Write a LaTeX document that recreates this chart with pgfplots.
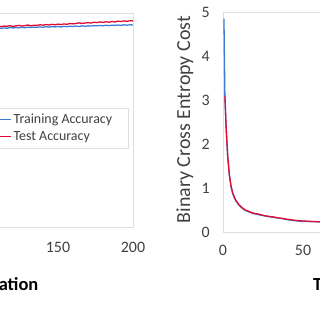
\documentclass[border=0pt]{standalone}
\usepackage{pgfplots}
\pgfplotsset{compat=1.18}
\usepackage{fontspec}
\setmainfont{Carlito}
\definecolor{myblue}{RGB}{58,126,212}
\definecolor{myred}{RGB}{226,12,50}
\definecolor{framegray}{RGB}{222,222,222}
\definecolor{txt}{RGB}{64,64,64}
\pgfplotsset{
  common/.style={
    scale only axis,
    anchor=south west,
    axis line style={framegray, line width=0.8bp},
    tick style={draw=none},
    ticklabel style={font=\fontsize{16}{19}\selectfont, text=txt},
    /pgf/number format/assume math mode=true,
    xmin=0, xmax=200,
    xtick={0,50,100,150,200},
  }
}
\begin{document}
\begin{tikzpicture}
\path[use as bounding box, clip] (0bp,0bp) rectangle (320bp,320bp);
% Left chart: accuracy
\begin{axis}[common,
  at={(-167bp,93bp)}, width=300bp, height=214bp,
  ymin=0, ymax=1, ytick=\empty,
  xticklabel style={inner sep=0pt, anchor=north, yshift=-15bp},
  xlabel={Iteration},
  xlabel style={at={(axis description cs:0.685,-0.299)}, anchor=base east,
    inner sep=0pt, font=\fontsize{18.5}{21}\selectfont\bfseries, text=black},
  legend style={at={(axis description cs:0.983,0.556)}, anchor=north east,
    draw=framegray, font=\fontsize{14}{16.5}\selectfont, text=txt,
    inner xsep=13.5bp, inner ysep=4bp, row sep=2.3bp},
  legend cell align=left,
]
\addplot[myblue, line width=1.3bp] table {
100 .928
102 .930
104 .927
106 .929
108 .928
110 .931
112 .928
114 .930
116 .929
118 .932
120 .930
122 .932
124 .931
126 .933
128 .931
130 .934
132 .932
134 .934
136 .933
138 .935
140 .933
142 .936
144 .934
146 .936
148 .935
150 .937
152 .935
154 .938
156 .936
158 .938
160 .937
162 .939
164 .937
166 .940
168 .938
170 .940
172 .939
174 .941
176 .940
178 .942
180 .940
182 .943
184 .941
186 .943
188 .942
190 .944
192 .942
194 .945
196 .943
198 .945
200 .944
};
\addlegendentry{Training Accuracy}
\addplot[myred, line width=1.3bp] table {
100 .936
102 .939
104 .935
106 .938
108 .937
110 .940
112 .936
114 .939
116 .938
118 .941
120 .937
122 .940
124 .942
126 .939
128 .941
130 .944
132 .940
134 .943
136 .942
138 .945
140 .943
142 .946
144 .944
146 .947
148 .945
150 .948
152 .946
154 .949
156 .947
158 .951
160 .949
162 .951
164 .954
166 .951
168 .953
170 .955
172 .953
174 .957
176 .955
178 .958
180 .956
182 .959
184 .957
186 .960
188 .958
190 .962
192 .960
194 .963
196 .961
198 .964
200 .963
};
\addlegendentry{Test Accuracy}
\end{axis}
% Right chart: cost
\begin{axis}[common,
  at={(223bp,88bp)}, width=320bp, height=220bp,
  ymin=0, ymax=5, ytick={0,1,2,3,4,5},
  yticklabel style={inner sep=0pt, anchor=east, xshift=-13bp},
  xticklabel style={inner sep=0pt, anchor=north, yshift=-13bp},
  ylabel={Binary Cross Entropy Cost},
  ylabel style={at={(axis description cs:-0.119,0.511)}, anchor=center,
    font=\fontsize{20}{23}\selectfont, text=txt},
  xlabel={Training Iteration},
  xlabel style={at={(axis description cs:0.281,-0.268)}, anchor=base west,
    inner sep=0pt, font=\fontsize{18.5}{21}\selectfont\bfseries, text=black},
]
\addplot[myblue, line width=1.3bp] table {
0.6 4.85
1.2 3.05
2 2.33
3 1.68
4 1.28
5 1.03
6 0.88
7 0.79
8 0.71
10 0.61
12 0.54
14 0.49
16 0.46
18 0.43
20 0.41
24 0.38
28 0.35
32 0.33
36 0.31
40 0.28
44 0.26
48 0.245
52 0.24
56 0.235
60 0.23
70 0.22
80 0.215
100 0.2
150 0.185
200 0.175
};
\addplot[myred, line width=1.3bp] table {
1.2 3.1
2 2.35
3 1.7
4 1.3
5 1.05
6 0.9
7 0.8
8 0.72
10 0.62
12 0.55
14 0.5
16 0.47
18 0.44
20 0.42
22 0.41
24 0.39
26 0.37
28 0.36
30 0.35
32 0.34
34 0.325
36 0.315
38 0.305
40 0.29
42 0.283
44 0.27
46 0.263
48 0.255
50 0.25
52 0.247
55 0.24
58 0.236
60 0.232
65 0.228
70 0.225
80 0.22
100 0.21
150 0.19
200 0.18
};
\end{axis}
\end{tikzpicture}
\end{document}
